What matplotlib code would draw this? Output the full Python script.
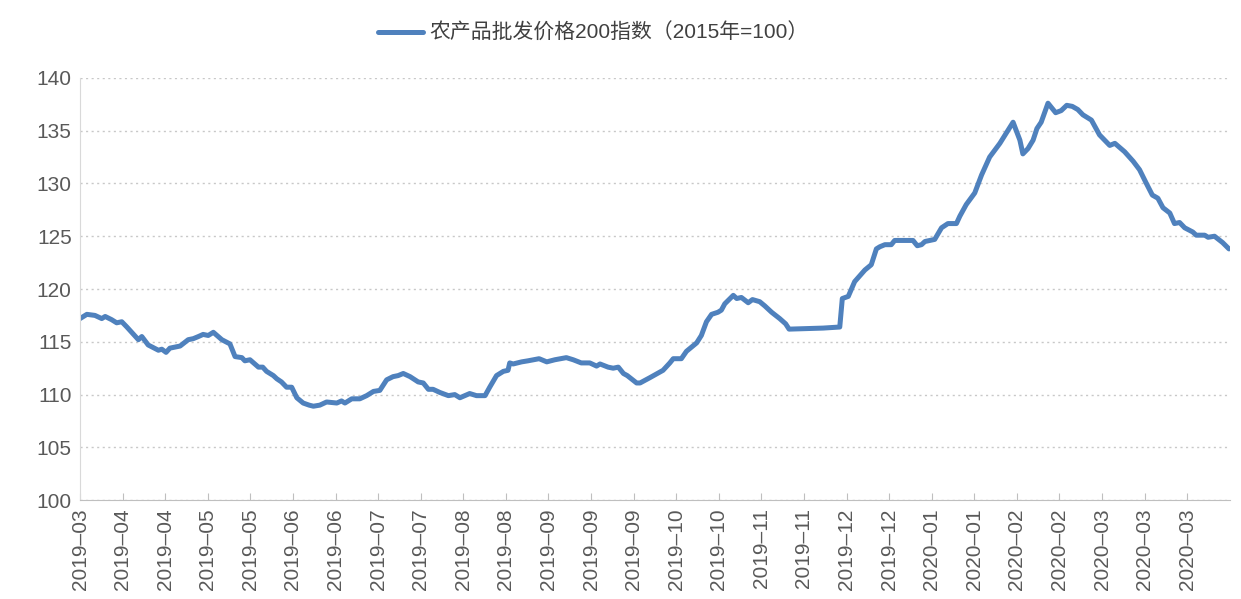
import matplotlib.pyplot as plt

plt.rcParams['font.family'] = ['Liberation Sans', 'Noto Sans CJK SC', 'DejaVu Sans']

# 横轴刻度标签(每10个交易日一个)
tick_labels = ['2019–03', '2019–04', '2019–04', '2019–05', '2019–05', '2019–06', '2019–06',
               '2019–07', '2019–07', '2019–08', '2019–08', '2019–09', '2019–09', '2019–09',
               '2019–10', '2019–10', '2019–11', '2019–11', '2019–12', '2019–12', '2020–01',
               '2020–01', '2020–02', '2020–02', '2020–03', '2020–03', '2020–03']

# 交易日序号和指数值
day = [0, 1.6, 3.5, 5.1, 5.9, 7.4, 8.6, 9.8, 11.0, 13.7,
       14.5, 16.0, 18.4, 19.2, 20.2, 21.1, 23.5, 25.4, 26.6, 27.8,
       28.9, 30.1, 31.3, 33.3, 35.2, 36.4, 38.0, 38.7, 39.9, 41.9,
       42.9, 43.8, 45.4, 46.2, 47.3, 48.5, 49.7, 50.9, 52.4, 53.8,
       54.8, 56.3, 57.9, 60.3, 61.4, 62.2, 63.8, 65.7, 67.3, 68.9,
       70.4, 72.0, 73.5, 74.7, 75.9, 77.5, 79.4, 80.6, 81.8, 82.9,
       84.5, 86.5, 88.0, 89.2, 91.5, 93.1, 95.1, 96.2, 97.8, 99.4,
       100.5, 100.9, 101.7, 103.7, 105.2, 107.8,
       109.6, 111.5, 114.2, 115.8, 117.7, 119.7, 121.3, 122.1, 124.0, 125.2,
       126.4, 127.6, 128.5, 130.7, 131.5, 133.8, 136.9, 138.5, 139.3, 141.2,
       142.4, 144.8, 145.9, 147.1, 148.3, 149.8, 150.6, 151.4, 153.4, 154.2,
       155.3, 156.9, 157.9, 159.6,
       160.8, 162.4, 164.3, 165.7, 166.5, 174.5, 178.4, 179.0, 180.4, 181.9,
       184.3, 185.8, 187.0, 187.8, 189.0, 190.5, 191.3, 195.6, 196.6, 197.6,
       198.4, 200.7, 202.3, 203.8,
       205.8, 206.6, 208.1, 210.1, 211.7, 213.6, 216.0, 219.1, 220.7, 221.4,
       222.6, 223.8, 224.7, 225.7, 227.3, 229.1, 230.4, 231.7, 233.0, 234.3,
       235.5, 237.5,
       239.4, 241.8, 243.0, 245.3, 247.3, 248.8, 250.4, 251.8, 253.1, 254.3,
       255.9, 257.0, 258.2, 259.4, 261.3, 262.1, 264.1, 264.9, 266.4, 268.3,
       269.8]

price = [117.2, 117.6, 117.5, 117.2, 117.4, 117.1, 116.8, 116.9, 116.4, 115.2,
         115.5, 114.7, 114.2, 114.3, 114.0, 114.4, 114.6, 115.2, 115.3, 115.5,
         115.7, 115.6, 115.9, 115.2, 114.8, 113.6, 113.5, 113.2, 113.3, 112.6,
         112.6, 112.2, 111.8, 111.5, 111.2, 110.7, 110.7, 109.7, 109.2, 109.0,
         108.9, 109.0, 109.3, 109.2, 109.4, 109.2, 109.6, 109.6, 109.9, 110.3,
         110.4, 111.4, 111.7, 111.8, 112.0, 111.7, 111.2, 111.1, 110.5, 110.5,
         110.2, 109.9, 110.0, 109.7, 110.1, 109.9, 109.9, 110.7, 111.8, 112.2,
         112.3, 113.0, 112.9, 113.1, 113.2, 113.4,
         113.1, 113.3, 113.5, 113.3, 113.0, 113.0, 112.7, 112.9, 112.6, 112.5,
         112.6, 112.0, 111.8, 111.1, 111.1, 111.6, 112.3, 113.0, 113.4, 113.4,
         114.1, 114.9, 115.6, 116.9, 117.6, 117.8, 118.0, 118.6, 119.4, 119.1,
         119.2, 118.7, 119.0, 118.8,
         118.4, 117.8, 117.2, 116.7, 116.2, 116.3, 116.4, 119.1, 119.3, 120.7,
         121.8, 122.3, 123.8, 124.0, 124.2, 124.2, 124.6, 124.6, 124.1, 124.2,
         124.5, 124.7, 125.8, 126.2,
         126.2, 126.9, 128.0, 129.1, 130.8, 132.5, 133.8, 135.8, 134.1, 132.8,
         133.3, 134.1, 135.2, 135.8, 137.6, 136.7, 136.9, 137.4, 137.3, 137.0,
         136.5, 136.0,
         134.6, 133.6, 133.8, 133.0, 132.1, 131.3, 130.0, 128.9, 128.6, 127.7,
         127.2, 126.2, 126.3, 125.8, 125.4, 125.1, 125.1, 124.9, 125.0, 124.4,
         123.8]

text_color = '#595959'

fig = plt.figure(figsize=(12.41, 5.99), dpi=100)
ax = fig.add_axes([0.0645, 0.165, 0.9265, 0.705])

ax.plot(day, price, color='#4F81BD', linewidth=3.6, solid_joinstyle='round',
        solid_capstyle='round', label='农产品批发价格200指数（2015年=100）')

ax.set_xlim(0, 270)
ax.set_ylim(100, 140)
ax.set_yticks(range(100, 141, 5))
ax.set_xticks(range(0, 270, 10))
ax.set_xticklabels(tick_labels, rotation=90)

ax.grid(axis='y', color='#C8C8C8', linestyle=(0, (1.5, 2.5)), linewidth=1)
ax.set_axisbelow(True)
for s in ['top', 'right']:
    ax.spines[s].set_visible(False)
ax.spines['left'].set_color('#D9D9D9')
ax.spines['bottom'].set_color('#BFBFBF')
ax.tick_params(axis='y', length=0, labelsize=15, labelcolor=text_color, pad=6)
ax.tick_params(axis='x', direction='in', length=5, color='#BFBFBF',
               labelsize=15, labelcolor=text_color, pad=6)

leg = fig.legend(loc='center', bbox_to_anchor=(0.478, 0.945), frameon=False,
                 fontsize=15, handlelength=2.2, handletextpad=0.3)
for t in leg.get_texts():
    t.set_color('#404040')

fig.savefig('out.png', dpi=100)
